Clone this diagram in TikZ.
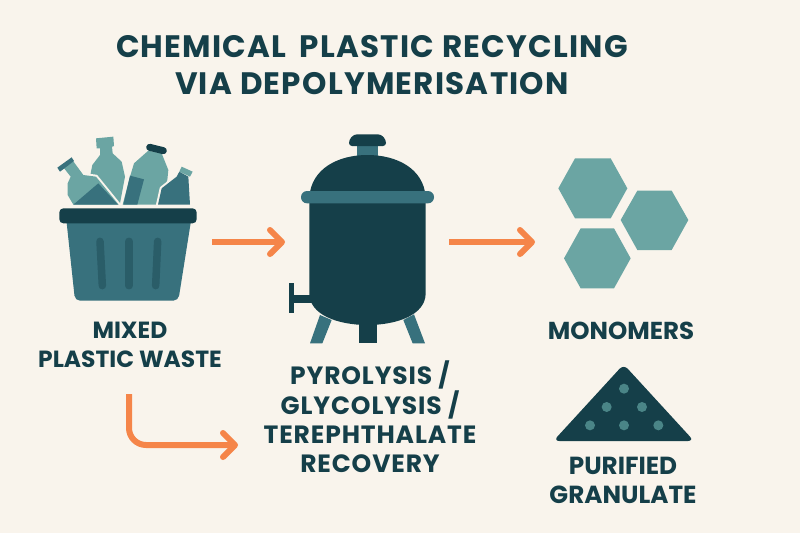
\documentclass[tikz,border=0pt]{standalone}
\usepackage{fontspec}
\setmainfont{Poppins}
\usetikzlibrary{arrows.meta}
\definecolor{paper}{HTML}{F9F4EC}
\definecolor{deep}{HTML}{153F49}
\definecolor{teal1}{HTML}{38717D}
\definecolor{pale}{HTML}{6BA5A3}
\definecolor{flame}{HTML}{F58549}
\definecolor{speck}{HTML}{4A8587}
\tikzset{
	flow/.style={draw=flame,line width=6pt,line cap=butt,-{Straight Barb[round,length=12pt,width=24pt,line width=6pt]}},
	title/.style={text=deep,font=\fontsize{31}{37}\selectfont\bfseries\addfontfeature{LetterSpace=4},align=center},
	caption/.style={text=deep,align=center},
	cell/.style={fill=pale},
	bottle/.style={preaction={draw=paper,line width=4pt}},
}
\begin{document}
\begin{tikzpicture}[x=1pt,y=-1pt,line join=round,line cap=round]
	\fill[paper] (0,0) rectangle (800,533);
	\useasboundingbox (0,0) rectangle (800,533);
	\node[title] (head) at (372,65) {CHEMICAL\, PLASTIC RECYCLING\\VIA DEPOLYMERISATION};
	% Bottles and basket
	\begin{scope}[shift={(40,120)},scale=1/3]
		\fill[pale] (168,55)--(220,50)--(222,78)--(216,80)--(218,100)--(245,125)--(255,170)--(240,250)--(150,170)--(157,135)--(180,105)--(180,85)--(170,85)--cycle;
		\fill[bottle,pale] (70,142)--(100,124)--(130,165)--(168,170)--(236,254)--(100,254)--(83,225)--(83,190)--(92,170)--cycle;
		\fill[teal1] (52,143)--(95,112)--(102,123)--(60,155)--cycle;
		\fill[teal1] (100,254)--(175,190)--(234,254)--cycle;
		\fill[bottle,pale] (325,92)--(365,100)--(385,150)--(382,180)--(350,254)--(248,254)--(270,170)--(282,130)--cycle;
		\fill[teal1] (270,167)--(312,178)--(292,254)--(250,254)--cycle;
		\draw[deep,line width=7pt] (329,82)--(370,92);
		\fill[bottle,teal1] (418,155)--(445,170)--(450,254)--(354,254)--(365,205)--(410,170)--cycle;
		\fill[pale] (425,140)--(458,155)--(450,170)--(418,155)--cycle;
		\fill[teal1,rounded corners=5pt] (78,290)--(455,290)--(415,542)--(105,542)--cycle;
		\fill[deep,rounded corners=4pt] (58,265) rectangle (470,310);
		\foreach \xa/\xb in {180/187,267/267,353/347}
			\draw[teal1!60!deep,line width=7.5pt] (\xa,364)--(\xb,497);
	\end{scope}
	% Reactor
	\begin{scope}[shift={(270,125)},scale=1/3]
		\fill[teal1] (260,55) rectangle (325,100);
		\fill[deep,rounded corners=3pt] (237,63)--(237,45)--(252,28)--(333,28)--(348,45)--(348,63)--cycle;
		\fill[deep] (130,510) rectangle (72,535);
		\fill[deep] (57,475) rectangle (72,565);
		\fill[teal1] (150,570)--(185,585)--(157,655)--(120,655)--cycle;
		\fill[teal1] (400,585)--(432,568)--(465,655)--(428,655)--cycle;
		\fill[deep] (267,590) rectangle (320,655);
		\fill[deep] (118,215) .. controls (125,130) and (205,90) .. (292,90) .. controls (380,90) and (460,130) .. (467,215)--(467,505) .. controls (467,570) and (380,600) .. (292,600) .. controls (205,600) and (118,570) .. (118,505)--cycle;
		\fill[teal1,rounded corners=6pt] (93,198) rectangle (492,235);
	\end{scope}
	% Monomers and granulate
	\begin{scope}[shift={(540,150)},scale=1/3]
		\fill[cell] (105,25)--(212,25)--(262,115)--(212,205)--(105,205)--(55,115)--cycle;
		\fill[cell] (292,122)--(395,122)--(445,210)--(395,300)--(292,300)--(242,210)--cycle;
		\fill[cell] (122,235)--(222,235)--(272,325)--(222,415)--(122,415)--(72,325)--cycle;
		\fill[deep,rounded corners=6pt] (251,643)--(462,873)--(40,873)--cycle;
		\foreach \dx/\dy in {252/716,200/771,306/771,150/826,252/826,355/826}
			\fill[speck] (\dx,\dy) circle (15);
	\end{scope}
	% Captions
	\node[caption,font=\fontsize{23.4}{29}\selectfont\bfseries] (waste) at (130,345) {MIXED\\PLASTIC WASTE};
	\node[caption,font=\fontsize{25}{29.3}\selectfont\bfseries\addfontfeature{LetterSpace=3.5}] (process) at (370,417) {PYROLYSIS /\\GLYCOLYSIS /\\TEREPHTHALATE\\RECOVERY};
	\node[caption,font=\fontsize{24.5}{29}\selectfont\bfseries] (mono) at (621,331) {MONOMERS};
	\node[caption,font=\fontsize{24.7}{29}\selectfont\bfseries] (granule) at (623,480) {PURIFIED\\GRANULATE};
	% Arrows
	\coordinate (a1) at (212,242); \coordinate (a2) at (285,242);
	\coordinate (b1) at (449,242); \coordinate (b2) at (535,242);
	\coordinate (c1) at (129,394); \coordinate (c2) at (238,445);
	\draw[flow] (a1)--(a2);
	\draw[flow] (b1)--(b2);
	\draw[flow,rounded corners=17pt] (c1)|-(c2);
\end{tikzpicture}
\end{document}
